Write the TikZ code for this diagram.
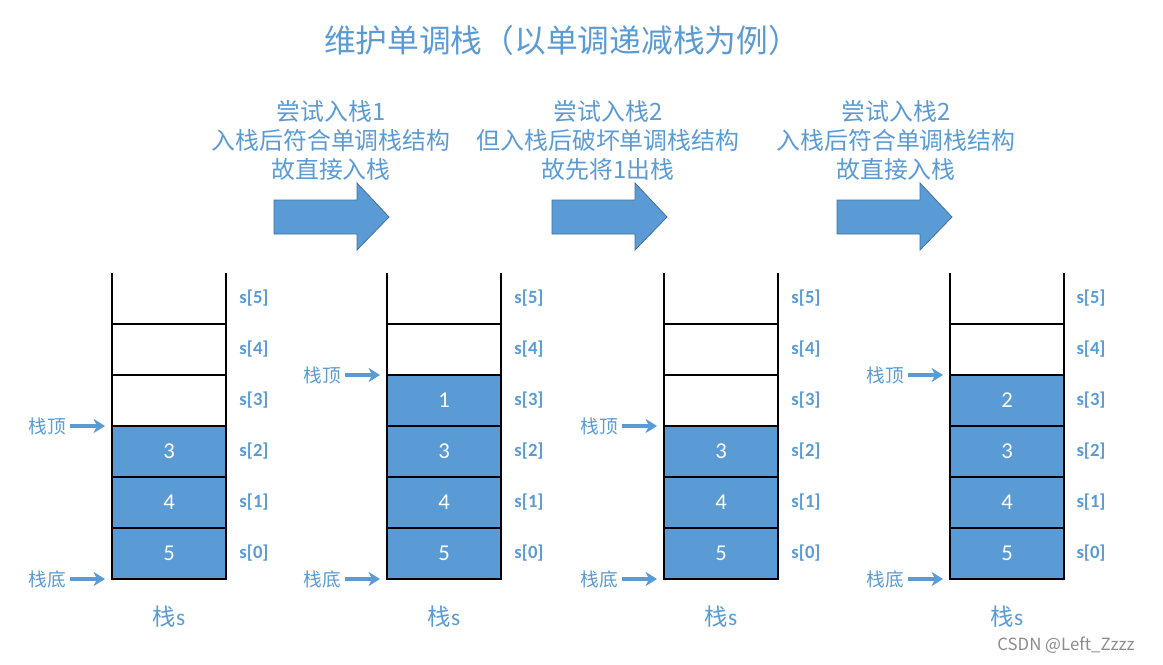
\documentclass[tikz,border=0pt]{standalone}
\usepackage{fontspec}
\setmainfont{Carlito}
\newfontfamily\cjk{Noto Sans CJK SC}
\usetikzlibrary{arrows.meta}
\definecolor{stackblue}{HTML}{5B9BD5}
\definecolor{edgeblue}{HTML}{41719C}

\tikzset{
  wall/.style={draw=black, line width=1pt},
  cell/.style={draw=black, line width=1pt, fill=stackblue, text=white, minimum width=85.5pt, minimum height=38.25pt, inner sep=0pt, font=\fontsize{17}{17}\selectfont},
  idx/.style={text=stackblue, font=\fontsize{14}{14}\selectfont\bfseries},
  ptr/.style={text=stackblue, font=\cjk\fontsize{14}{14}\selectfont},
  ptrarrow/.style={-{Stealth[length=8.5pt,width=10.5pt,inset=2.5pt]}, draw=stackblue, line width=2.4pt},
  stackname/.style={text=stackblue, font=\fontsize{17.5}{17.5}\selectfont},
  blockarrow/.style={fill=stackblue, draw=edgeblue, line width=0.6pt},
  steptext/.style={text=stackblue, align=center, font=\cjk\fontsize{17.9}{21.75}\selectfont},
  titletext/.style={text=stackblue, font=\cjk\fontsize{23.8}{23.8}\selectfont},
  wmark/.style={text=black!45, font=\cjk\fontsize{12.6}{12.6}\selectfont}
}

\begin{document}
\begin{tikzpicture}[x=0.75pt, y=-0.75pt]
\fill[white] (0,0) rectangle (1163,664);
\useasboundingbox (0,0) rectangle (1163,664);

\node[titletext] (title) at (562,40) {维护单调栈（以单调递减栈为例）};

% steps
\node[steptext] (step1) at (331,140) {尝试入栈1\\入栈后符合单调栈结构\\故直接入栈};
\node[steptext] (step2) at (608,140) {尝试入栈2\\但入栈后破坏单调栈结构\\故先将1出栈};
\node[steptext] (step3) at (896,140) {尝试入栈2\\入栈后符合单调栈结构\\故直接入栈};
\draw[blockarrow] (274,200) -- ++(83,0) -- ++(0,-17) -- ++(32,34) -- ++(-32,33) -- ++(0,-16) -- ++(-83,0) -- cycle;
\draw[blockarrow] (552,200) -- ++(83,0) -- ++(0,-17) -- ++(32,34) -- ++(-32,33) -- ++(0,-16) -- ++(-83,0) -- cycle;
\draw[blockarrow] (837,200) -- ++(83,0) -- ++(0,-17) -- ++(32,34) -- ++(-32,33) -- ++(0,-16) -- ++(-83,0) -- cycle;

% stack 1
\draw[wall] (112,273) -- (112,579) -- (226,579) -- (226,273);
\draw[wall] (112,324) -- (226,324) (112,375) -- (226,375);
\node[cell] (a0) at (169,553.5) {5};
\node[cell] (a1) at (169,502.5) {4};
\node[cell] (a2) at (169,451.5) {3};
\foreach \i in {0,...,5} \node[idx] (ai\i) at (254,{553.5-51*\i}) {s[\i]};
\node[ptr] (atop) at (47,426) {栈顶};
\coordinate (atopend) at (105,426);
\draw[ptrarrow] (atop) -- (atopend);
\node[ptr] (abot) at (47,579) {栈底};
\coordinate (abotend) at (105,579);
\draw[ptrarrow] (abot) -- (abotend);
\node[stackname] (aname) at (169,617) {{\cjk 栈}s};

% stack 2
\draw[wall] (387,273) -- (387,579) -- (501,579) -- (501,273);
\draw[wall] (387,324) -- (501,324);
\node[cell] (b0) at (444,553.5) {5};
\node[cell] (b1) at (444,502.5) {4};
\node[cell] (b2) at (444,451.5) {3};
\node[cell] (b3) at (444,400.5) {1};
\foreach \i in {0,...,5} \node[idx] (bi\i) at (529,{553.5-51*\i}) {s[\i]};
\node[ptr] (btop) at (322,375) {栈顶};
\coordinate (btopend) at (380,375);
\draw[ptrarrow] (btop) -- (btopend);
\node[ptr] (bbot) at (322,579) {栈底};
\coordinate (bbotend) at (380,579);
\draw[ptrarrow] (bbot) -- (bbotend);
\node[stackname] (bname) at (444,617) {{\cjk 栈}s};

% stack 3
\draw[wall] (664,273) -- (664,579) -- (778,579) -- (778,273);
\draw[wall] (664,324) -- (778,324) (664,375) -- (778,375);
\node[cell] (c0) at (721,553.5) {5};
\node[cell] (c1) at (721,502.5) {4};
\node[cell] (c2) at (721,451.5) {3};
\foreach \i in {0,...,5} \node[idx] (ci\i) at (806,{553.5-51*\i}) {s[\i]};
\node[ptr] (ctop) at (599,426) {栈顶};
\coordinate (ctopend) at (657,426);
\draw[ptrarrow] (ctop) -- (ctopend);
\node[ptr] (cbot) at (599,579) {栈底};
\coordinate (cbotend) at (657,579);
\draw[ptrarrow] (cbot) -- (cbotend);
\node[stackname] (cname) at (721,617) {{\cjk 栈}s};

% stack 4
\draw[wall] (950,273) -- (950,579) -- (1064,579) -- (1064,273);
\draw[wall] (950,324) -- (1064,324);
\node[cell] (d0) at (1007,553.5) {5};
\node[cell] (d1) at (1007,502.5) {4};
\node[cell] (d2) at (1007,451.5) {3};
\node[cell] (d3) at (1007,400.5) {2};
\foreach \i in {0,...,5} \node[idx] (di\i) at (1091,{553.5-51*\i}) {s[\i]};
\node[ptr] (dtop) at (885,375) {栈顶};
\coordinate (dtopend) at (943,375);
\draw[ptrarrow] (dtop) -- (dtopend);
\node[ptr] (dbot) at (885,579) {栈底};
\coordinate (dbotend) at (943,579);
\draw[ptrarrow] (dbot) -- (dbotend);
\node[stackname] (dname) at (1007,617) {{\cjk 栈}s};

\node[wmark] (credit) at (1066,645) {CSDN @Left\_Zzzz};
\end{tikzpicture}
\end{document}
